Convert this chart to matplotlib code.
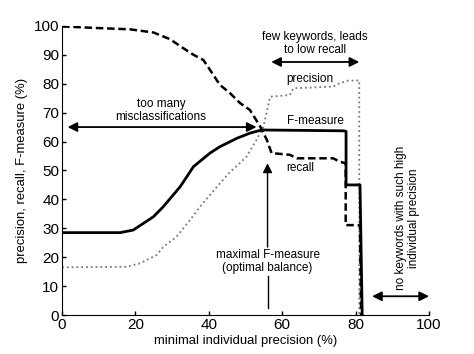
import matplotlib.pyplot as plt

# values
x_prec = [0, 17.6, 21.3, 25.8, 27.6, 31.2, 34.9, 37.6, 40.3, 43, 45.8, 48, 50.3, 53, 54.9,
          56.7, 62.1, 63, 73.9, 75.7, 78, 81, 81]
precision = [16.5, 16.7, 17.9, 20.8, 23.6, 27.1, 32.9, 37.5, 41.5, 45.5, 49.5, 52, 54.8, 60.6, 65.2,
             75.5, 76.1, 78.4, 79, 80.2, 81.1, 81.1, 0]

x_rec = [0, 10.4, 18.5, 24.9, 29.4, 33, 35.8, 38.5, 40.3, 43, 45.8, 48.5, 51.2, 54, 55.8,
         57.1, 62.1, 64, 73.9, 75.7, 77.3, 77.3, 81.2, 81.5]
recall = [99.8, 99.2, 98.8, 97.7, 95.4, 92.3, 90, 88.2, 84.8, 79.6, 76.7, 73.3, 70.9, 65.2, 60.6,
          56, 55.4, 54.2, 54.2, 53, 52.5, 31.1, 31.1, 0]

x_f = [0, 15.8, 19.4, 24.9, 27.6, 32.2, 35.8, 40.3, 43, 47.6, 51.2, 54.4, 76.8, 77.4, 77.4,
       81.2, 81.8]
fmeasure = [28.5, 28.5, 29.4, 34, 37.5, 44.4, 51.3, 56, 58.2, 61.1, 62.9, 64, 63.7, 63.5, 45,
            45, 0]

plt.rcParams['font.family'] = ['Liberation Sans', 'DejaVu Sans']

fig = plt.figure(figsize=(4.74, 3.54), dpi=100)
ax = fig.add_axes([0.131, 0.110, 0.774, 0.817])

ax.plot(x_prec, precision, color='#777777', linestyle=':', linewidth=1.3)
ax.plot(x_rec, recall, color='black', linestyle=(0, (3, 1.5)), linewidth=1.8)
ax.plot(x_f, fmeasure, color='black', linestyle='-', linewidth=2.0)

ax.set_xlim(0, 100)
ax.set_ylim(0, 100)
ax.set_xticks(range(0, 101, 20))
ax.set_yticks(range(0, 101, 10))
ax.tick_params(direction='in', labelsize=11, length=3, width=1, pad=2)
ax.spines['top'].set_visible(False)
ax.spines['right'].set_visible(False)
ax.set_xlabel('minimal individual precision (%)', fontsize=9.4, labelpad=2)
ax.set_ylabel('precision, recall, F-measure (%)', fontsize=9.4, labelpad=4)

arrow = dict(arrowstyle='<|-|>', color='black', lw=1.3, mutation_scale=14, shrinkA=0, shrinkB=0)
fs = 8.5

# too many misclassifications
ax.annotate('', xy=(1.5, 65), xytext=(53, 65), arrowprops=arrow)
ax.text(27, 70.8, 'too many\nmisclassifications', ha='center', va='center', fontsize=fs,
        linespacing=1.1)

# few keywords
ax.annotate('', xy=(57, 87.5), xytext=(81, 87.5), arrowprops=arrow)
ax.text(69, 93.8, 'few keywords, leads\nto low recall', ha='center', va='center', fontsize=fs,
        linespacing=1.1)

# curve labels
ax.text(67.5, 81.5, 'precision', ha='center', va='center', fontsize=fs)
ax.text(69, 67, 'F-measure', ha='center', va='center', fontsize=fs)
ax.text(65, 51, 'recall', ha='center', va='center', fontsize=fs)

# maximal F-measure
ax.annotate('', xy=(56, 52.5), xytext=(56, 23.5),
            arrowprops=dict(arrowstyle='-|>', color='black', lw=1.0, mutation_scale=14,
                            shrinkA=0, shrinkB=0))
ax.plot([56, 56], [13.5, 2.3], color='black', lw=1.0)
ax.text(56, 18.5, 'maximal F-measure\n(optimal balance)', ha='center', va='center', fontsize=fs,
        linespacing=1.1)

# no keywords
ax.annotate('', xy=(84.5, 6.5), xytext=(100, 6.5), arrowprops=arrow, annotation_clip=False)
ax.text(94.2, 33.5, 'no keywords with such high\nindividual precision', rotation=90,
        ha='center', va='center', fontsize=fs, linespacing=1.1)

fig.savefig('out.png', dpi=100)
